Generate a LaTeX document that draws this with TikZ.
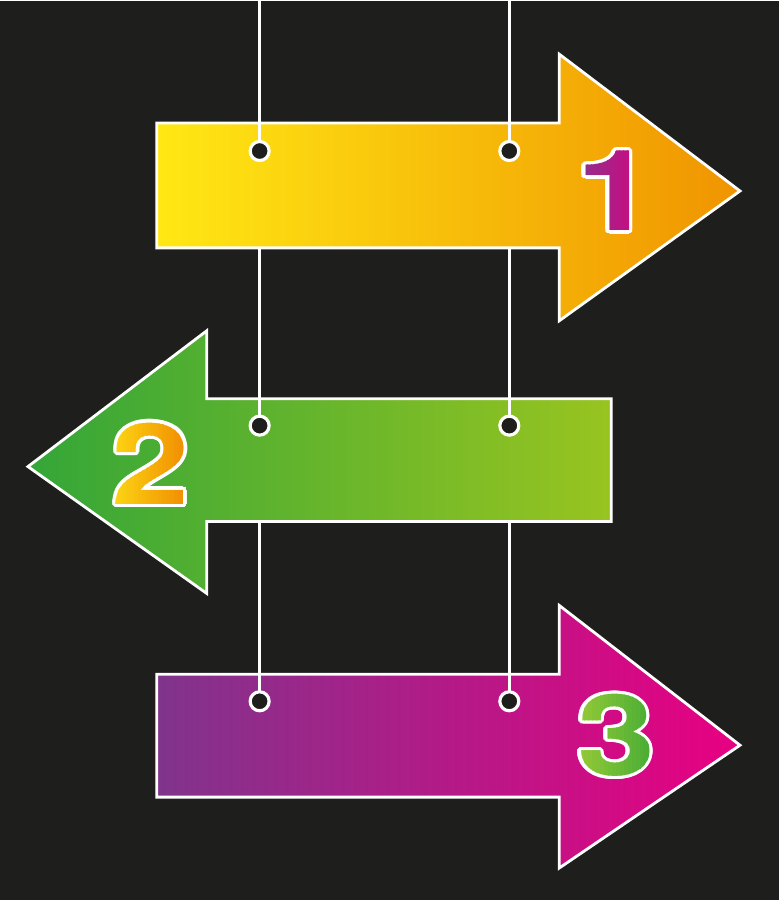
\documentclass[tikz,border=0pt]{standalone}
\usepackage{fontspec}
\setmainfont{Liberation Sans}
\newfontfamily\numfont{TeX Gyre Heros}
\usetikzlibrary{calc}

\definecolor{board}{RGB}{30,30,28}
\definecolor{yellowL}{RGB}{255,232,20}
\definecolor{orangeR}{RGB}{240,148,0}
\definecolor{greenL}{RGB}{52,166,56}
\definecolor{greenR}{RGB}{152,196,32}
\definecolor{purpleL}{RGB}{128,52,140}
\definecolor{magentaR}{RGB}{232,0,130}
\definecolor{numpurple}{RGB}{140,50,140}
\definecolor{nummagenta}{RGB}{220,0,125}
\definecolor{numyellow}{RGB}{252,215,20}
\definecolor{numorange}{RGB}{240,140,0}
\definecolor{numlime}{RGB}{150,202,55}
\definecolor{numgreen}{RGB}{70,172,52}

% big number: name, position, digit, left colour, right colour
\newcommand{\bignum}[5]{%
  \foreach \a in {0,22.5,...,337.5}
    \node[numtext,text=white] at ($(#2)+(\a:0.034cm)$) {\scalebox{1.25}[1]{#3}};
  \node[numtext,text=white] (#1) at (#2) {\scalebox{1.25}[1]{#3}};
  \foreach \i in {0,...,19}{
    \pgfmathtruncatemacro\pc{100-\i*100/19}
    \colorlet{stripc}{#4!\pc!#5}
    \begin{scope}
      \clip ($(#1.south west)!{\i/20}!(#1.south east)+(0,5)$) rectangle ($(#1.north west)!{(\i+1.15)/20}!(#1.north east)+(0,-5)$);
      \node[numtext,text=stripc] at (#2) {\scalebox{1.25}[1]{#3}};
    \end{scope}
  }
}

\begin{document}
\begin{tikzpicture}[x=0.01cm,y=-0.01cm,
    panel/.style={draw=white,line width=0.8pt,line join=miter},
    string/.style={white,line width=0.7pt},
    hole/.style={circle,fill=board,draw=white,line width=0.9pt,minimum size=0.19cm,inner sep=0pt},
    numtext/.style={font=\fontsize{32}{32}\numfont\bfseries,inner sep=0pt}]

    \fill[board] (0,0) rectangle (780,900);

    % hanging points
    \coordinate (topa) at (260,0);
    \coordinate (topb) at (510,0);
    \coordinate (h1a) at (260,150);
    \coordinate (h1b) at (510,150);
    \coordinate (h2a) at (260,425);
    \coordinate (h2b) at (510,425);
    \coordinate (h3a) at (260,701);
    \coordinate (h3b) at (510,701);

    % third arrow
    \path[panel,left color=purpleL,right color=magentaR]
      (157,674) -- (560,674) -- (560,605) -- (741,745) -- (560,868) -- (560,797) -- (157,797) -- cycle;
    \draw[string] (h2a) -- (h3a) (h2b) -- (h3b);

    % second arrow
    \path[panel,left color=greenL,right color=greenR]
      (612,398) -- (207,398) -- (207,330) -- (28,466) -- (207,593) -- (207,521) -- (612,521) -- cycle;
    \draw[string] (h1a) -- (h2a) (h1b) -- (h2b);

    % first arrow
    \path[panel,left color=yellowL,right color=orangeR]
      (157,122) -- (560,122) -- (560,53) -- (741,190) -- (560,320) -- (560,247) -- (157,247) -- cycle;
    \draw[string] (topa) -- (h1a) (topb) -- (h1b);

    \foreach \h in {h1a,h1b,h2a,h2b,h3a,h3b}
      \node[hole] at (\h) {};

    \bignum{one}{616,190}{1}{numpurple}{nummagenta}
    \bignum{two}{151,463}{2}{numyellow}{numorange}
    \bignum{three}{617,735}{3}{numlime}{numgreen}

\end{tikzpicture}
\end{document}
